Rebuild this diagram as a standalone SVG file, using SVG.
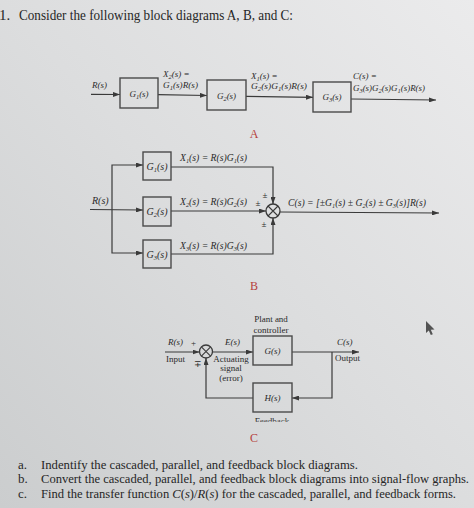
<svg xmlns="http://www.w3.org/2000/svg" width="474" height="508" viewBox="0 0 474 508">
<defs>
<linearGradient id="bg" x1="0" y1="1" x2="1" y2="0">
<stop offset="0" stop-color="#cbcdce"/>
<stop offset="0.5" stop-color="#dcddde"/>
<stop offset="1" stop-color="#ebebec"/>
</linearGradient>
<marker id="ah" markerWidth="7" markerHeight="5" refX="7" refY="2.5" orient="auto" markerUnits="userSpaceOnUse">
<path d="M0,0 L7,2.5 L0,5 z" fill="#3a3a3a"/>
</marker>
<clipPath id="fbclip"><rect x="230" y="410" width="90" height="11.8"/></clipPath>
<style>
.lbl{font-family:"Liberation Serif","Times New Roman",serif;font-style:italic;font-size:9px;fill:#2a2a2a}
.lbl2{font-family:"Liberation Serif","Times New Roman",serif;font-style:italic;font-size:10px;fill:#2a2a2a}
.nrm{font-family:"Liberation Serif","Times New Roman",serif;font-size:9px;fill:#2a2a2a}
.s{font-size:6.5px}
.txt{font-family:"Liberation Serif","Times New Roman",serif;fill:#262626}
.q{font-family:"Liberation Serif","Times New Roman",serif;fill:#262626;font-size:13px}
.box{fill:none;stroke:#4a4a4a;stroke-width:1.4}
.wire{fill:none;stroke:#3a3a3a;stroke-width:1.2}
.red{font-family:"Liberation Serif","Times New Roman",serif;font-size:12px;fill:#b5413c}
</style>
</defs>
<rect x="0" y="0" width="474" height="508" fill="url(#bg)"/>

<!-- Title -->
<g id="title">
<text class="txt" x="-1" y="20" font-size="15">1.</text>
<text class="txt" x="19" y="20" font-size="15" textLength="274" lengthAdjust="spacingAndGlyphs">Consider the following block diagrams A, B, and C:</text>
</g>

<!-- Connectors -->
<g id="connectors">
<!-- A -->
<line class="wire" x1="91" y1="94.3" x2="120" y2="94.5" marker-end="url(#ah)"/>
<line class="wire" x1="158" y1="94.7" x2="207" y2="95.5" marker-end="url(#ah)"/>
<line class="wire" x1="246" y1="96.3" x2="313" y2="97.3" marker-end="url(#ah)"/>
<line class="wire" x1="351" y1="99" x2="436" y2="100" marker-end="url(#ah)"/>
<!-- B -->
<line class="wire" x1="90" y1="209.5" x2="143" y2="210" marker-end="url(#ah)"/>
<polyline class="wire" points="112,209.5 112,165 143,165" marker-end="url(#ah)"/>
<polyline class="wire" points="112,209.5 112,253 143,253" marker-end="url(#ah)"/>
<polyline class="wire" points="171,167 273,167 273,204" marker-end="url(#ah)"/>
<line class="wire" x1="171" y1="211" x2="266" y2="211" marker-end="url(#ah)"/>
<polyline class="wire" points="171,254 273,254 273,218" marker-end="url(#ah)"/>
<line class="wire" x1="280" y1="212" x2="439" y2="213" marker-end="url(#ah)"/>
<!-- C -->
<line class="wire" x1="165" y1="352" x2="199.5" y2="352" marker-end="url(#ah)"/>
<line class="wire" x1="212.5" y1="352" x2="253" y2="352" marker-end="url(#ah)"/>
<line class="wire" x1="292" y1="352" x2="359" y2="352" marker-end="url(#ah)"/>
<polyline class="wire" points="332,352 332,398 292,398" marker-end="url(#ah)"/>
<polyline class="wire" points="253,398 206,398 206,358" marker-end="url(#ah)"/>
</g>

<!-- Diagram A -->
<g id="A-labels">
<text class="lbl" x="92" y="88">R(s)</text>
<text class="lbl" x="163" y="77">X<tspan class="s" dy="2">2</tspan><tspan dy="-2">(s) =</tspan></text>
<text class="lbl" x="163" y="88" textLength="35" lengthAdjust="spacingAndGlyphs">G<tspan class="s" dy="2">1</tspan><tspan dy="-2">(s)R(s)</tspan></text>
<text class="lbl" x="251" y="79">X<tspan class="s" dy="2">1</tspan><tspan dy="-2">(s) =</tspan></text>
<text class="lbl" x="251" y="89" textLength="56" lengthAdjust="spacingAndGlyphs">G<tspan class="s" dy="2">2</tspan><tspan dy="-2">(s)G</tspan><tspan class="s" dy="2">1</tspan><tspan dy="-2">(s)R(s)</tspan></text>
<text class="lbl" x="353" y="79">C(s) =</text>
<text class="lbl" x="353" y="91" textLength="72" lengthAdjust="spacingAndGlyphs">G<tspan class="s" dy="2">3</tspan><tspan dy="-2">(s)G</tspan><tspan class="s" dy="2">2</tspan><tspan dy="-2">(s)G</tspan><tspan class="s" dy="2">1</tspan><tspan dy="-2">(s)R(s)</tspan></text>
<text class="red" x="254" y="138" text-anchor="middle">A</text>
</g>
<g id="A-G1">
<rect class="box" x="120" y="78" width="38" height="30"/>
<text class="lbl" x="139" y="97" text-anchor="middle">G<tspan class="s" dy="2">1</tspan><tspan dy="-2">(s)</tspan></text>
</g>
<g id="A-G2">
<rect class="box" x="207" y="80" width="39" height="30"/>
<text class="lbl" x="226.5" y="98.5" text-anchor="middle">G<tspan class="s" dy="2">2</tspan><tspan dy="-2">(s)</tspan></text>
</g>
<g id="A-G3">
<rect class="box" x="313" y="82" width="38" height="30"/>
<text class="lbl" x="332" y="100" text-anchor="middle">G<tspan class="s" dy="2">3</tspan><tspan dy="-2">(s)</tspan></text>
</g>

<!-- Diagram B -->
<g id="B-labels">
<text class="lbl2" x="92" y="204">R(s)</text>
<text class="lbl2" x="180" y="161" textLength="67" lengthAdjust="spacingAndGlyphs">X<tspan class="s" dy="2">1</tspan><tspan dy="-2">(s) = R(s)G</tspan><tspan class="s" dy="2">1</tspan><tspan dy="-2">(s)</tspan></text>
<text class="lbl2" x="180" y="205" textLength="67" lengthAdjust="spacingAndGlyphs">X<tspan class="s" dy="2">2</tspan><tspan dy="-2">(s) = R(s)G</tspan><tspan class="s" dy="2">2</tspan><tspan dy="-2">(s)</tspan></text>
<text class="lbl2" x="180" y="249" textLength="67" lengthAdjust="spacingAndGlyphs">X<tspan class="s" dy="2">3</tspan><tspan dy="-2">(s) = R(s)G</tspan><tspan class="s" dy="2">3</tspan><tspan dy="-2">(s)</tspan></text>
<text class="nrm" x="265" y="198" text-anchor="middle">±</text>
<text class="nrm" x="258" y="206" text-anchor="middle">±</text>
<text class="nrm" x="264" y="227" text-anchor="middle">±</text>
<text class="lbl2" x="288" y="206" textLength="138" lengthAdjust="spacingAndGlyphs">C(s) = [±G<tspan class="s" dy="2">1</tspan><tspan dy="-2">(s) ± G</tspan><tspan class="s" dy="2">2</tspan><tspan dy="-2">(s) ± G</tspan><tspan class="s" dy="2">3</tspan><tspan dy="-2">(s)]R(s)</tspan></text>
<text class="red" x="254" y="290" text-anchor="middle">B</text>
</g>
<g id="B-G1">
<rect class="box" x="143" y="152" width="28" height="28"/>
<text class="lbl2" x="157" y="169.5" text-anchor="middle">G<tspan class="s" dy="2">1</tspan><tspan dy="-2">(s)</tspan></text>
</g>
<g id="B-G2">
<rect class="box" x="143" y="197" width="28" height="29"/>
<text class="lbl2" x="157" y="214.5" text-anchor="middle">G<tspan class="s" dy="2">2</tspan><tspan dy="-2">(s)</tspan></text>
</g>
<g id="B-G3">
<rect class="box" x="143" y="240" width="28" height="28"/>
<text class="lbl2" x="157" y="257.5" text-anchor="middle">G<tspan class="s" dy="2">3</tspan><tspan dy="-2">(s)</tspan></text>
</g>
<g id="B-sum">
<circle cx="273" cy="211" r="7" fill="none" stroke="#3a3a3a" stroke-width="1.3"/>
<path d="M268,206 L278,216 M278,206 L268,216" stroke="#3a3a3a" stroke-width="1.1"/>
</g>

<!-- Diagram C -->
<g id="C-labels">
<text class="lbl" x="168" y="345">R(s)</text>
<text class="nrm" x="191" y="346">+</text>
<text class="nrm" x="166" y="362">Input</text>
<text class="nrm" x="198" y="367" text-anchor="middle" font-size="10">∓</text>
<text class="lbl" x="225" y="345">E(s)</text>
<text class="nrm" x="231" y="362" text-anchor="middle">Actuating</text>
<text class="nrm" x="231" y="371" text-anchor="middle">signal</text>
<text class="nrm" x="231" y="381" text-anchor="middle">(error)</text>
<text class="nrm" x="271" y="322" text-anchor="middle">Plant and</text>
<text class="nrm" x="271" y="333" text-anchor="middle">controller</text>
<text class="lbl" x="337" y="345">C(s)</text>
<text class="nrm" x="335" y="361">Output</text>
<text class="nrm" x="272" y="424" text-anchor="middle" clip-path="url(#fbclip)">Feedback</text>
<text class="red" x="254" y="442" text-anchor="middle">C</text>
</g>
<g id="C-sum">
<circle cx="206" cy="351.5" r="6.5" fill="none" stroke="#3a3a3a" stroke-width="1.3"/>
<path d="M201.4,346.9 L210.6,356.1 M210.6,346.9 L201.4,356.1" stroke="#3a3a3a" stroke-width="1.1"/>
</g>
<g id="C-G">
<rect class="box" x="253" y="336" width="39" height="29"/>
<text class="lbl" x="272.5" y="354" text-anchor="middle">G(s)</text>
</g>
<g id="C-H">
<rect class="box" x="253" y="383" width="39" height="29"/>
<text class="lbl" x="272.5" y="401" text-anchor="middle">H(s)</text>
</g>

<!-- cursor -->
<path d="M426,321 L426,333 L428.8,330.5 L430.8,335 L432.8,334.2 L430.8,329.8 L434.5,329.6 Z" fill="#3a3a3a" opacity="0.85"/>

<!-- Questions -->
<g id="questions">
<text class="q" x="18" y="469">a.</text>
<text class="q" x="41" y="469" textLength="317" lengthAdjust="spacingAndGlyphs">Indentify the cascaded, parallel, and feedback block diagrams.</text>
<text class="q" x="18" y="483">b.</text>
<text class="q" x="41" y="483" textLength="428" lengthAdjust="spacingAndGlyphs">Convert the cascaded, parallel, and feedback block diagrams into signal-flow graphs.</text>
<text class="q" x="18" y="498">c.</text>
<text class="q" x="41" y="498" textLength="415" lengthAdjust="spacingAndGlyphs">Find the transfer function <tspan font-style="italic">C</tspan>(<tspan font-style="italic">s</tspan>)/<tspan font-style="italic">R</tspan>(<tspan font-style="italic">s</tspan>) for the cascaded, parallel, and feedback forms.</text>
</g>
</svg>
